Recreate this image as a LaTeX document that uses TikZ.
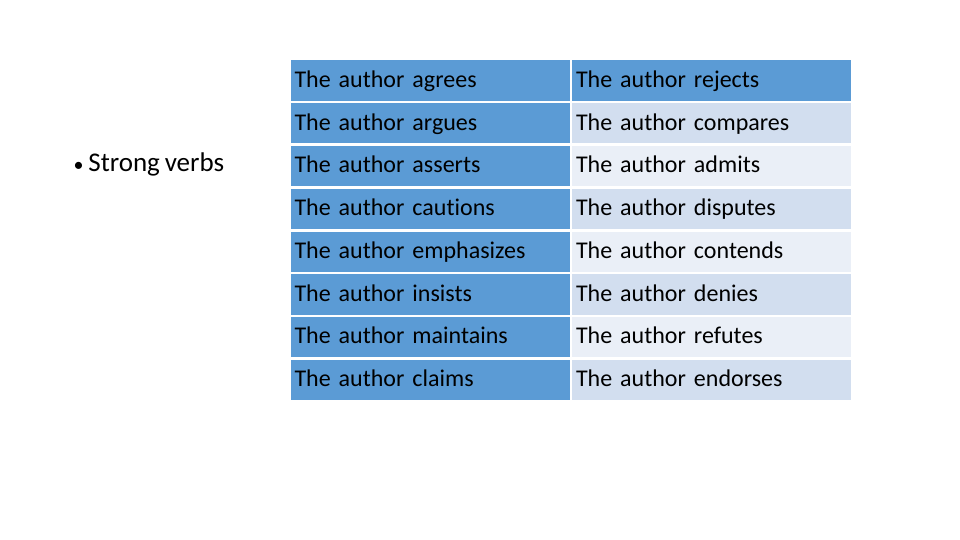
\documentclass[tikz,border=0pt]{standalone}
\usepackage{fontspec}
\setmainfont[Ligatures={NoCommon},WordSpace={0.8}]{Carlito}
\definecolor{hdr}{HTML}{5B9BD5}
\definecolor{dk}{HTML}{D2DEEF}
\definecolor{lt}{HTML}{EAEFF7}
\begin{document}
\begin{tikzpicture}[x=1pt,y=-1pt,
  cell/.style={draw=white,line width=2.5pt,anchor=north west,minimum width=281.5pt,minimum height=42.75pt,inner xsep=5pt,text width=271pt,align=left,text depth=3pt,font=\fontsize{24}{28}\selectfont}]
\useasboundingbox[fill=white] (0,0) rectangle (960,540);
\node[anchor=west,font=\fontsize{27}{30}\selectfont] (b) at (70,164) {{\fontsize{20}{20}\selectfont\textbullet}\ Strong verbs};
\def\L{{"agrees","argues","asserts","cautions","emphasizes","insists","maintains","claims"}}
\def\R{{"rejects","compares","admits","disputes","contends","denies","refutes","endorses"}}
\foreach \i [count=\k from 0] in {1,...,8}{
  \pgfmathsetmacro\yy{58+\k*42.75}
  \pgfmathparse{\L[\k]}\edef\lw{\pgfmathresult}
  \pgfmathparse{\R[\k]}\edef\rw{\pgfmathresult}
  \ifnum\k=0 \def\rc{hdr}\else\ifodd\k \def\rc{dk}\else\def\rc{lt}\fi\fi
  \node[cell,fill=hdr] (l\i) at (288,\yy) {The author \lw};
  \node[cell,fill=\rc] (r\i) at (569.5,\yy) {The author \rw};
}
\end{tikzpicture}
\end{document}
